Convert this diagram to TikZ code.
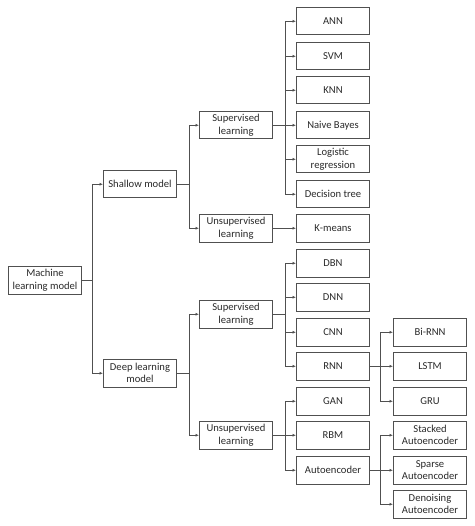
\documentclass[tikz,border=0pt]{standalone}
\usepackage{fontspec}
\setmainfont{Carlito}
\usetikzlibrary{arrows.meta}
\definecolor{ln}{HTML}{505050}
\definecolor{tx}{HTML}{2A2A2A}
\tikzset{
  box/.style={draw=ln, line width=1pt, minimum width=73pt, minimum height=27.5pt, inner sep=1pt, align=center, text=tx, font=\fontsize{10.6}{12.2}\selectfont, anchor=north west},
  conn/.style={draw=ln, line width=1pt, -{Latex[length=3.5pt,width=3pt]}},
}
\begin{document}
\begin{tikzpicture}[x=1pt,y=-1pt]
\useasboundingbox[fill=white] (0,0) rectangle (474,526);
% column 4
\node[box] (ann) at (296,7) {ANN};
\node[box] (svm) at (296,42) {SVM};
\node[box] (knn) at (296,76) {KNN};
\node[box] (nb) at (296,111) {Naive Bayes};
\node[box] (lr) at (296,145) {Logistic\\regression};
\node[box] (dt) at (296,180) {Decision tree};
\node[box] (km) at (296,214) {K-means};
\node[box] (dbn) at (296,249) {DBN};
\node[box] (dnn) at (296,283) {DNN};
\node[box] (cnn) at (296,318) {CNN};
\node[box] (rnn) at (296,352) {RNN};
\node[box] (gan) at (296,387) {GAN};
\node[box] (rbm) at (296,421) {RBM};
\node[box] (ae) at (296,456) {Autoencoder};
% column 5
\node[box] (birnn) at (393,318) {Bi-RNN};
\node[box] (lstm) at (393,352) {LSTM};
\node[box] (gru) at (393,387) {GRU};
\node[box] (sae) at (393,421) {Stacked\\Autoencoder};
\node[box] (spae) at (393,456) {Sparse\\Autoencoder};
\node[box] (dae) at (393,490) {Denoising\\Autoencoder};
% column 3
\node[box] (ssup) at (199,111) {Supervised\\learning};
\node[box] (suns) at (199,214) {Unsupervised\\learning};
\node[box] (dsup) at (199,300) {Supervised\\learning};
\node[box] (duns) at (199,421) {Unsupervised\\learning};
% column 2
\node[box] (sh) at (103,170) {Shallow model};
\node[box] (dl) at (103,359) {Deep learning\\model};
% column 1
\node[box] (ml) at (8,266) {Machine\\learning model};
% connectors
\foreach \t in {sh,dl} \draw[conn] (ml.east) -- (92,0 |- ml.east) |- (\t.west);
\foreach \t in {ssup,suns} \draw[conn] (sh.east) -- (189,0 |- sh.east) |- (\t.west);
\foreach \t in {dsup,duns} \draw[conn] (dl.east) -- (189,0 |- dl.east) |- (\t.west);
\foreach \t in {ann,svm,knn,nb,lr,dt} \draw[conn] (ssup.east) -- (285,0 |- ssup.east) |- (\t.west);
\draw[conn] (suns.east) -- (km.west);
\foreach \t in {dbn,dnn,cnn,rnn} \draw[conn] (dsup.east) -- (285,0 |- dsup.east) |- (\t.west);
\foreach \t in {gan,rbm,ae} \draw[conn] (duns.east) -- (285,0 |- duns.east) |- (\t.west);
\foreach \t in {birnn,lstm,gru} \draw[conn] (rnn.east) -- (380,0 |- rnn.east) |- (\t.west);
\foreach \t in {sae,spae,dae} \draw[conn] (ae.east) -- (380,0 |- ae.east) |- (\t.west);
\end{tikzpicture}
\end{document}
